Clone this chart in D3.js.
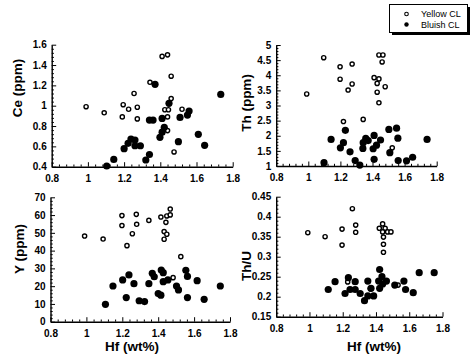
<!DOCTYPE html>
<html><head><meta charset="utf-8">
<script src="https://cdn.jsdelivr.net/npm/d3@7"></script>
<style>
html,body{margin:0;padding:0;background:#fff;}
svg{display:block;}
text{font-family:"Liberation Sans",Arial,Helvetica,sans-serif;}
</style></head>
<body>
<svg id="chart" width="474" height="359"></svg>
<script>
// ---- data (Hf wt%, value) ----
const ceYellow = [[0.99,0.99],[1.09,0.93],[1.195,1.01],[1.19,0.89],[1.225,0.965],[1.255,1.12],[1.273,0.985],[1.273,0.87],[1.343,1.23],[1.41,1.485],[1.44,1.5],[1.46,1.29],[1.46,1.07],[1.425,0.96],[1.445,0.96],[1.44,0.89],[1.44,0.755],[1.52,0.965],[1.476,0.545]];
const ceBluish = [[1.104,0.407],[1.143,0.472],[1.2,0.577],[1.222,0.63],[1.238,0.672],[1.26,0.662],[1.26,0.606],[1.29,0.606],[1.32,0.466],[1.34,0.52],[1.34,0.859],[1.36,0.859],[1.371,1.21],[1.398,0.689],[1.41,0.74],[1.422,0.787],[1.41,0.875],[1.448,1.023],[1.5,0.646],[1.509,0.885],[1.55,0.908],[1.559,0.948],[1.61,0.718],[1.645,0.61],[1.734,1.111]];
const thYellow = [[0.99,3.38],[1.096,4.58],[1.198,4.28],[1.198,3.87],[1.273,4.37],[1.273,3.71],[1.248,3.51],[1.219,2.47],[1.342,2.54],[1.41,3.92],[1.44,4.67],[1.465,4.67],[1.46,4.44],[1.44,3.88],[1.429,3.73],[1.429,3.44],[1.44,3.09],[1.479,3.62],[1.523,1.6]];
const thBluish = [[1.098,1.11],[1.142,1.88],[1.2,1.6],[1.219,1.77],[1.231,2.18],[1.26,1.47],[1.292,1.18],[1.321,1.03],[1.34,1.58],[1.342,1.77],[1.358,1.91],[1.373,1.84],[1.41,2.01],[1.404,1.57],[1.425,1.69],[1.41,1.22],[1.45,1.86],[1.502,2.21],[1.508,1.44],[1.55,2.25],[1.558,1.92],[1.56,1.18],[1.612,1.17],[1.65,1.29],[1.74,1.88]];
const yYellow = [[0.99,48.2],[1.093,46.5],[1.198,59.7],[1.198,54.1],[1.226,42.8],[1.256,49.5],[1.278,60.4],[1.28,54.8],[1.348,57.0],[1.415,58.9],[1.448,59.5],[1.467,63.4],[1.467,60.1],[1.443,55.9],[1.433,50.7],[1.448,49.2],[1.433,46.4],[1.526,36.6],[1.483,24.8]];
const yBluish = [[1.106,9.8],[1.148,20.1],[1.202,23.5],[1.222,13.6],[1.237,26.3],[1.265,21.4],[1.294,11.8],[1.324,11.3],[1.348,21.4],[1.367,27.2],[1.378,25.3],[1.40,15.8],[1.415,14.9],[1.417,29.1],[1.428,27.6],[1.428,22.5],[1.454,23.5],[1.502,20.1],[1.513,17.9],[1.554,28.9],[1.563,25.5],[1.563,13.6],[1.617,23.1],[1.656,12.6],[1.746,20.1]];
const thuYellow = [[0.99,0.36],[1.094,0.35],[1.196,0.369],[1.196,0.329],[1.258,0.42],[1.278,0.379],[1.278,0.361],[1.44,0.382],[1.42,0.371],[1.455,0.371],[1.44,0.362],[1.47,0.362],[1.49,0.362],[1.445,0.349],[1.445,0.331],[1.445,0.311],[1.23,0.237],[1.366,0.22],[1.533,0.229]];
const thuBluish = [[1.113,0.218],[1.154,0.2375],[1.214,0.208],[1.234,0.2475],[1.244,0.218],[1.275,0.218],[1.275,0.2375],[1.305,0.208],[1.331,0.19],[1.351,0.239],[1.351,0.202],[1.37,0.221],[1.386,0.202],[1.416,0.239],[1.422,0.268],[1.422,0.221],[1.436,0.25],[1.44,0.232],[1.463,0.239],[1.513,0.229],[1.568,0.239],[1.578,0.218],[1.624,0.21],[1.66,0.26],[1.75,0.26]];

const hfTicks = [0.8,1,1.2,1.4,1.6,1.8];
const ceTicks = [0.4,0.6,0.8,1,1.2,1.4,1.6];
const thTicks = [1,1.5,2,2.5,3,3.5,4,4.5,5];
const yTicks = [0,10,20,30,40,50,60,70];
const thuTicks = [0.15,0.2,0.25,0.3,0.35,0.4,0.45];

const seriesNames = ["Yellow CL","Bluish CL"];
const xTitle = "Hf (wt%)";

const svg = d3.select("#chart");

const panels = [
  {yellow:ceYellow, bluish:ceBluish, yDom:[0.4,1.6], yt:ceTicks, ystep:0.2, title:"Ce (ppm)",
   x0:51.7, x1:232.7, y0:166.7, y1:44.7, tx:22, ty:88, xlabel:false},
  {yellow:thYellow, bluish:thBluish, yDom:[1,5], yt:thTicks, ystep:0.5, title:"Th (ppm)",
   x0:276.2, x1:436.7, y0:166, y1:45, tx:251, ty:103, xlabel:false},
  {yellow:yYellow, bluish:yBluish, yDom:[0,70], yt:yTicks, ystep:10, title:"Y (ppm)",
   x0:50.5, x1:230, y0:321.7, y1:197.3, tx:24, ty:249, xlabel:true, hx:132},
  {yellow:thuYellow, bluish:thuBluish, yDom:[0.15,0.45], yt:thuTicks, ystep:0.05, title:"Th/U",
   x0:276.2, x1:442.5, y0:316.7, y1:196.7, tx:250.5, ty:266, xlabel:true, hx:374}
];

function minorTicks(dom, step){
  const out=[]; const n=Math.round((dom[1]-dom[0])/step*5);
  for(let i=0;i<=n;i++){ const v=dom[0]+i*step/5; if(i%5!==0) out.push(+v.toFixed(6)); }
  return out;
}
const fmt = v => (+v.toFixed(3)).toString();

panels.forEach(p=>{
  const x = d3.scaleLinear().domain([0.8,1.8]).range([p.x0,p.x1]);
  const y = d3.scaleLinear().domain(p.yDom).range([p.y0,p.y1]);
  const g = svg.append("g");

  // minor ticks
  g.append("g").attr("transform",`translate(0,${p.y0})`)
    .call(d3.axisBottom(x).tickValues(minorTicks([0.8,1.8],0.2)).tickSize(-2.2).tickFormat(""))
    .call(a=>a.select(".domain").remove());
  g.append("g").attr("transform",`translate(${p.x0},0)`)
    .call(d3.axisLeft(y).tickValues(minorTicks(p.yDom,p.ystep)).tickSize(-2.2).tickFormat(""))
    .call(a=>a.select(".domain").remove());

  // major axes
  const xa = g.append("g").attr("transform",`translate(0,${p.y0})`)
    .call(d3.axisBottom(x).tickValues(hfTicks).tickSize(-4.5).tickSizeOuter(0).tickPadding(8).tickFormat(fmt));
  const ya = g.append("g").attr("transform",`translate(${p.x0},0)`)
    .call(d3.axisLeft(y).tickValues(p.yt).tickSize(-4.5).tickSizeOuter(0).tickPadding(5).tickFormat(fmt));
  [xa,ya].forEach(a=>{
    a.selectAll("text").attr("font-size",10).attr("font-weight","bold").attr("fill","#000")
      .attr("font-family","'Liberation Sans',Arial,sans-serif");
    a.select(".domain").attr("stroke","#000").attr("stroke-width",1.4);
  });
  g.selectAll(".tick line").attr("stroke","#000").attr("stroke-width",1);

  // y title
  svg.append("text").attr("transform",`translate(${p.tx},${p.ty}) rotate(-90)`)
    .attr("text-anchor","middle").attr("font-size",13.5).attr("font-weight","bold")
    .text(p.title);
  if(p.xlabel){
    svg.append("text").attr("x",p.hx).attr("y",351).attr("text-anchor","middle")
      .attr("font-size",13.5).attr("font-weight","bold").text(xTitle);
  }

  // points
  g.append("g").selectAll("circle").data(p.yellow).join("circle")
    .attr("cx",d=>x(d[0])).attr("cy",d=>y(d[1])).attr("r",2.1)
    .attr("fill","#fff").attr("stroke","#000").attr("stroke-width",1.4);
  g.append("g").selectAll("circle").data(p.bluish).join("circle")
    .attr("cx",d=>x(d[0])).attr("cy",d=>y(d[1])).attr("r",3.6)
    .attr("fill","#000");
});

// legend
const lg = svg.append("g");
lg.append("rect").attr("x",392).attr("y",7).attr("width",78).attr("height",28).attr("fill","#000");
lg.append("rect").attr("x",389.5).attr("y",4.5).attr("width",78).attr("height",28)
  .attr("fill","#fff").attr("stroke","#000").attr("stroke-width",1);
lg.append("circle").attr("cx",406.5).attr("cy",14).attr("r",1.8).attr("fill","#fff").attr("stroke","#000").attr("stroke-width",1.1);
lg.append("circle").attr("cx",406.5).attr("cy",24.5).attr("r",2.2).attr("fill","#000");
lg.selectAll("text.lg").data(seriesNames).join("text").attr("class","lg")
  .attr("x",421).attr("y",(d,i)=>17+i*10.5).attr("font-size",9).text(d=>d);
</script>
</body></html>
